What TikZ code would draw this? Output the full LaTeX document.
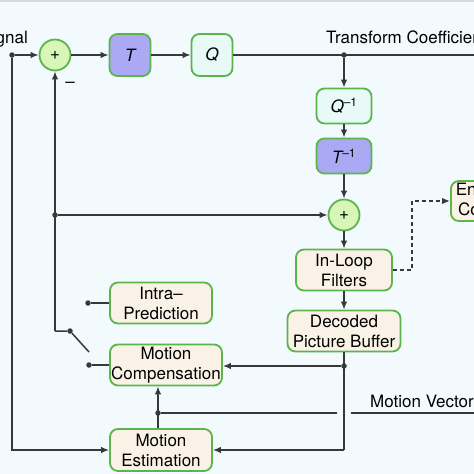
\documentclass[tikz,border=0pt]{standalone}
\usepackage{fontspec}
\setmainfont{TeX Gyre Heros}
\usetikzlibrary{arrows.meta}

\definecolor{bgblue}{HTML}{F2FAFD}
\definecolor{topgray}{HTML}{D3DBDE}
\definecolor{wire}{HTML}{383838}
\definecolor{boxgreen}{HTML}{5BB54A}
\definecolor{sumgreen}{HTML}{D8F6B8}
\definecolor{tlilac}{HTML}{ABA8F4}
\definecolor{qcyan}{HTML}{E7FAF6}
\definecolor{cream}{HTML}{FAF2E6}

\begin{document}
\begin{tikzpicture}[x=1pt, y=-1pt, font=\fontsize{17}{20}\selectfont,
    wire/.style={draw=wire, line width=1.5pt},
    arr/.style={wire, -{Latex[length=8pt,width=6.5pt]}},
    blk/.style={draw=boxgreen, line width=1.8pt, rounded corners=8pt, align=center,
        inner xsep=1pt, inner ysep=1pt},
    summ/.style={draw=boxgreen, line width=1.8pt, circle, fill=sumgreen,
        minimum size=31pt, inner sep=0pt},
    dot/.style={circle, fill=wire, inner sep=0pt, minimum size=5.5pt}]

\clip (0,0) rectangle (474,474);
\fill[bgblue] (0,0) rectangle (474,474);
\fill[topgray] (0,0) rectangle (474,2);

% forward path
\node[summ] (sumA) at (55,55) {+};
\node[blk, fill=tlilac, minimum width=41pt, minimum height=42pt] (T) at (130,55) {\itshape T};
\node[blk, fill=qcyan, minimum width=41pt, minimum height=42pt] (Q) at (212,55) {\itshape Q};

% inverse path
\node[blk, fill=qcyan, minimum width=55pt, minimum height=35pt] (Qi) at (344,106) {{\itshape Q}\textsuperscript{\textendash1}};
\node[blk, fill=tlilac, minimum width=55pt, minimum height=35pt] (Ti) at (344,156) {{\itshape T}\textsuperscript{\textendash1}};
\node[summ] (sumB) at (344,215) {+};
\node[blk, fill=cream, minimum width=96pt, minimum height=41pt] (ilf) at (344,270) {In-Loop\\Filters};
\node[blk, fill=cream, minimum width=113pt, minimum height=41pt] (dpb) at (344,331) {Decoded\\Picture Buffer};
\node[blk, fill=cream, minimum height=40pt, inner xsep=5pt, anchor=west] (ent) at (450,201) {Entropy\\Coding};

% prediction
\node[blk, fill=cream, minimum width=102pt, minimum height=41pt] (intra) at (161,303) {Intra\textendash\\Prediction};
\node[blk, fill=cream, minimum width=112pt, minimum height=41pt] (mc) at (166,365) {Motion\\Compensation};
\node[blk, fill=cream, minimum width=102pt, minimum height=42pt] (me) at (161,450) {Motion\\Estimation};

% junctions
\node[dot] (in) at (12,55) {};
\node[dot] (tc) at (344,55) {};
\coordinate (out) at (480,55);
\node[dot] (fb) at (55,215) {};
\coordinate (sw) at (55,331);
\node[dot] (swp) at (70,331) {};
\coordinate (swe) at (89,352);
\node[dot] (ipin) at (88,303) {};
\node[dot] (mcin) at (89,365) {};
\node[dot] (dpbj) at (344,366) {};
\coordinate (dpbb) at (344,450);
\node[dot] (mvj) at (158,413) {};
\coordinate (hopL) at (337,413);
\coordinate (hopR) at (351,413);
\coordinate (mvout) at (480,413);
\coordinate (ilfd) at (412,270);
\coordinate (entd) at (412,201);

% labels
\node[anchor=base east, inner sep=0pt] (lin) at (28,43) {Input Signal};
\node[anchor=base west, inner sep=0pt] (ltc) at (326,43) {Transform Coefficients};
\node[anchor=base west, inner sep=0pt] (lmv) at (370,407) {Motion Vectors};
\node[inner sep=0pt] (lminus) at (70,85) {\textendash};

% connectors
\draw[arr] (in) -- (sumA);
\draw[arr] (sumA) -- (T);
\draw[arr] (T) -- (Q);
\draw[wire] (Q) -- (out);
\draw[arr] (tc) -- (Qi);
\draw[arr] (Qi) -- (Ti);
\draw[arr] (Ti) -- (sumB);
\draw[arr] (sumB) -- (ilf);
\draw[arr] (ilf) -- (dpb);
\draw[arr] (in) |- (me.west);
\draw[arr] (sw) -- (sumA);
\draw[arr] (fb) -- (sumB);
\draw[wire] (sw) -- (swp) -- (swe);
\draw[wire] (ipin) -- (intra);
\draw[wire] (mcin) -- (mc);
\draw[wire] (dpb) -- (dpbb);
\draw[arr] (dpbj) -- (dpbj -| mc.east);
\draw[arr] (dpbb) -- (me.east);
\draw[arr] (mvj |- me.north) -- (mvj |- mc.south);
\draw[wire] (mvj) -- (hopL);
\draw[wire] (hopR) -- (mvout);
\draw[arr, dash pattern=on 4pt off 3pt] (ilf) -- (ilfd) -- (entd) -- (ent);

\end{tikzpicture}
\end{document}
